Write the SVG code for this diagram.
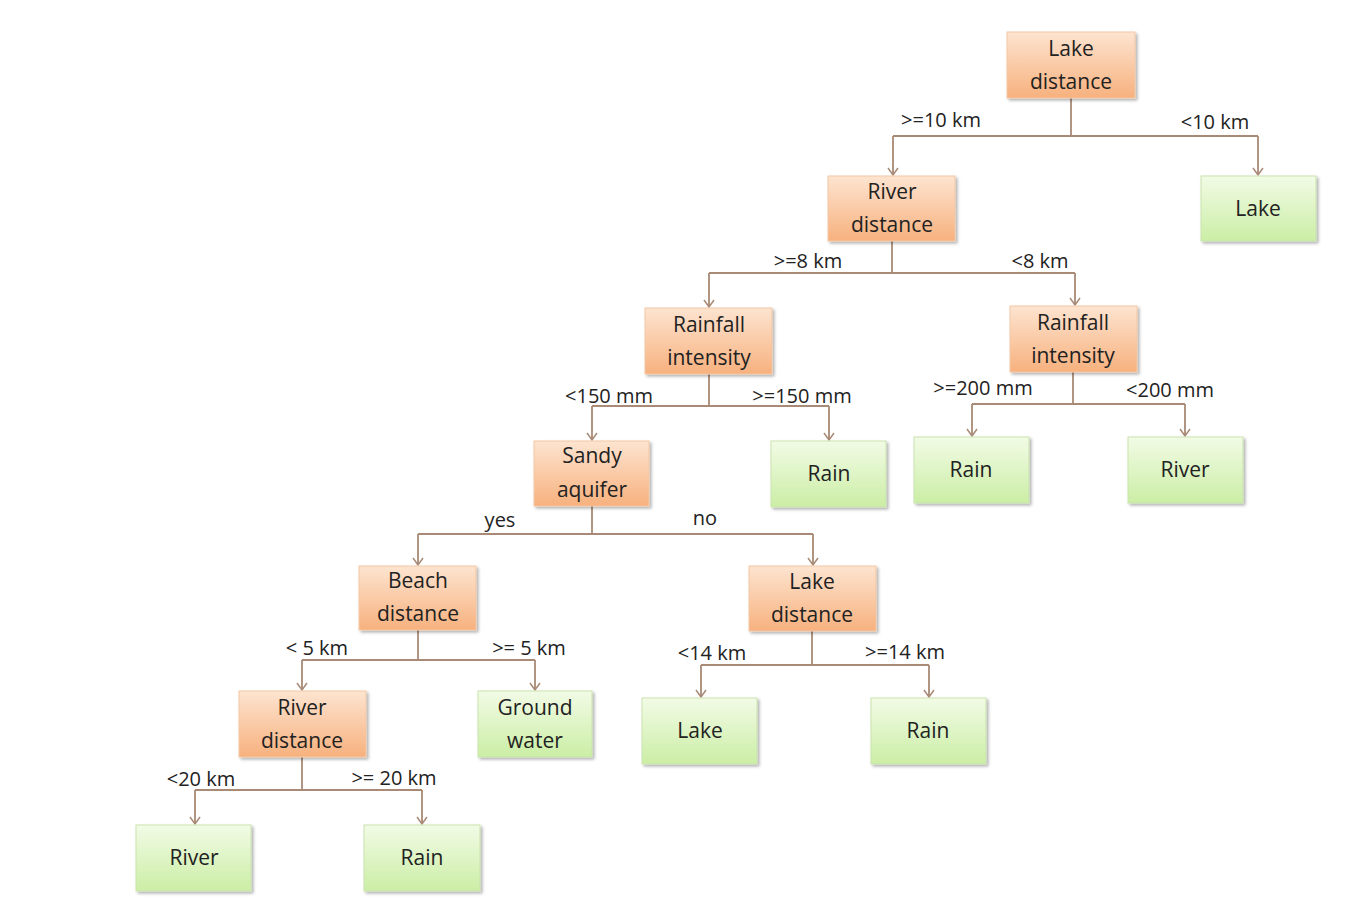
<svg xmlns="http://www.w3.org/2000/svg" width="1363" height="921" viewBox="0 0 1363 921">
<defs>
<linearGradient id="og" x1="0" y1="0" x2="0" y2="1"><stop offset="0" stop-color="#fde4d0"/><stop offset="1" stop-color="#f7b17e"/></linearGradient>
<linearGradient id="gg" x1="0" y1="0" x2="0" y2="1"><stop offset="0" stop-color="#f2fbe6"/><stop offset="1" stop-color="#cbeea5"/></linearGradient>
<filter id="sh" x="-10%" y="-10%" width="130%" height="130%"><feDropShadow dx="2" dy="2" stdDeviation="1.5" flood-color="#000" flood-opacity="0.3"/></filter>
<marker id="ar" markerWidth="12" markerHeight="12" refX="10" refY="6" orient="auto" markerUnits="userSpaceOnUse" viewBox="0 0 12 12"><path d="M3,1 L10,6 L3,11" fill="none" stroke="#a88a76" stroke-width="1.5"/></marker>
</defs>
<style>
.o{fill:url(#og);stroke:#f2c7a5;stroke-width:1;filter:url(#sh)}
.g{fill:url(#gg);stroke:#c9e3ad;stroke-width:1;filter:url(#sh)}
text{font-family:"Open Sans","Liberation Sans",sans-serif;fill:#222;text-anchor:middle}
.n{font-size:21px}
.l{font-size:20px}
.c{fill:none;stroke:#a88a76;stroke-width:1.8}
</style>
<rect width="1363" height="921" fill="#fff"/>
<g id="connectors">
<path class="c" d="M1071,98 V136"/><path class="c" d="M893,136 H1258" /><path class="c" d="M893,136 V175" marker-end="url(#ar)"/><path class="c" d="M1258,136 V175" marker-end="url(#ar)"/>
<path class="c" d="M892,241 V273 M709,273 H1075"/><path class="c" d="M709,273 V307" marker-end="url(#ar)"/><path class="c" d="M1075,273 V305" marker-end="url(#ar)"/>
<path class="c" d="M709,374 V406 M592,406 H829"/><path class="c" d="M592,406 V440" marker-end="url(#ar)"/><path class="c" d="M829,406 V440" marker-end="url(#ar)"/>
<path class="c" d="M1073,372 V404 M972,404 H1185"/><path class="c" d="M972,404 V436" marker-end="url(#ar)"/><path class="c" d="M1185,404 V436" marker-end="url(#ar)"/>
<path class="c" d="M592,506 V534 M418,534 H813"/><path class="c" d="M418,534 V565" marker-end="url(#ar)"/><path class="c" d="M813,534 V565" marker-end="url(#ar)"/>
<path class="c" d="M418,630 V660 M302,660 H535"/><path class="c" d="M302,660 V690" marker-end="url(#ar)"/><path class="c" d="M535,660 V690" marker-end="url(#ar)"/>
<path class="c" d="M812,631 V665 M701,665 H929"/><path class="c" d="M701,665 V697" marker-end="url(#ar)"/><path class="c" d="M929,665 V697" marker-end="url(#ar)"/>
<path class="c" d="M302,757 V790 M195,790 H422"/><path class="c" d="M195,790 V824" marker-end="url(#ar)"/><path class="c" d="M422,790 V824" marker-end="url(#ar)"/>
<g class="l">
<text x="941" y="127">&gt;=10 km</text><text x="1215" y="129">&lt;10 km</text>
<text x="808" y="268">&gt;=8 km</text><text x="1040" y="268">&lt;8 km</text>
<text x="609" y="403">&lt;150 mm</text><text x="802" y="403">&gt;=150 mm</text>
<text x="983" y="395">&gt;=200 mm</text><text x="1170" y="397">&lt;200 mm</text>
<text x="500" y="527">yes</text><text x="705" y="525">no</text>
<text x="317" y="655">&lt; 5 km</text><text x="529" y="655">&gt;= 5 km</text>
<text x="712" y="660">&lt;14 km</text><text x="905" y="659">&gt;=14 km</text>
<text x="201" y="786">&lt;20 km</text><text x="394" y="785">&gt;= 20 km</text>
</g>
</g>
<g id="n1"><rect class="o" x="1007" y="32" width="128" height="66"/><text class="n" x="1071" y="56">Lake</text><text class="n" x="1071" y="89">distance</text></g>
<g id="n2"><rect class="o" x="828" y="176" width="127" height="65"/><text class="n" x="892" y="199">River</text><text class="n" x="892" y="232">distance</text></g>
<g id="n3"><rect class="g" x="1201" y="176" width="115" height="65"/><text class="n" x="1258" y="216">Lake</text></g>
<g id="n4"><rect class="o" x="645" y="308" width="127" height="66"/><text class="n" x="709" y="332">Rainfall</text><text class="n" x="709" y="365">intensity</text></g>
<g id="n5"><rect class="o" x="1010" y="306" width="127" height="66"/><text class="n" x="1073" y="330">Rainfall</text><text class="n" x="1073" y="363">intensity</text></g>
<g id="n6"><rect class="o" x="534" y="441" width="115" height="65"/><text class="n" x="592" y="463">Sandy</text><text class="n" x="592" y="497">aquifer</text></g>
<g id="n7"><rect class="g" x="771" y="441" width="115" height="66"/><text class="n" x="829" y="481">Rain</text></g>
<g id="n8"><rect class="g" x="914" y="437" width="115" height="66"/><text class="n" x="971" y="477">Rain</text></g>
<g id="n9"><rect class="g" x="1128" y="437" width="115" height="66"/><text class="n" x="1185" y="477">River</text></g>
<g id="n10"><rect class="o" x="359" y="566" width="117" height="64"/><text class="n" x="418" y="588">Beach</text><text class="n" x="418" y="621">distance</text></g>
<g id="n11"><rect class="o" x="749" y="566" width="127" height="65"/><text class="n" x="812" y="589">Lake</text><text class="n" x="812" y="622">distance</text></g>
<g id="n12"><rect class="o" x="239" y="691" width="127" height="66"/><text class="n" x="302" y="715">River</text><text class="n" x="302" y="748">distance</text></g>
<g id="n13"><rect class="g" x="478" y="691" width="114" height="66"/><text class="n" x="535" y="715">Ground</text><text class="n" x="535" y="748">water</text></g>
<g id="n14"><rect class="g" x="642" y="698" width="115" height="66"/><text class="n" x="700" y="738">Lake</text></g>
<g id="n15"><rect class="g" x="871" y="698" width="115" height="66"/><text class="n" x="928" y="738">Rain</text></g>
<g id="n16"><rect class="g" x="136" y="825" width="115" height="66"/><text class="n" x="194" y="865">River</text></g>
<g id="n17"><rect class="g" x="364" y="825" width="116" height="66"/><text class="n" x="422" y="865">Rain</text></g>
</svg>
